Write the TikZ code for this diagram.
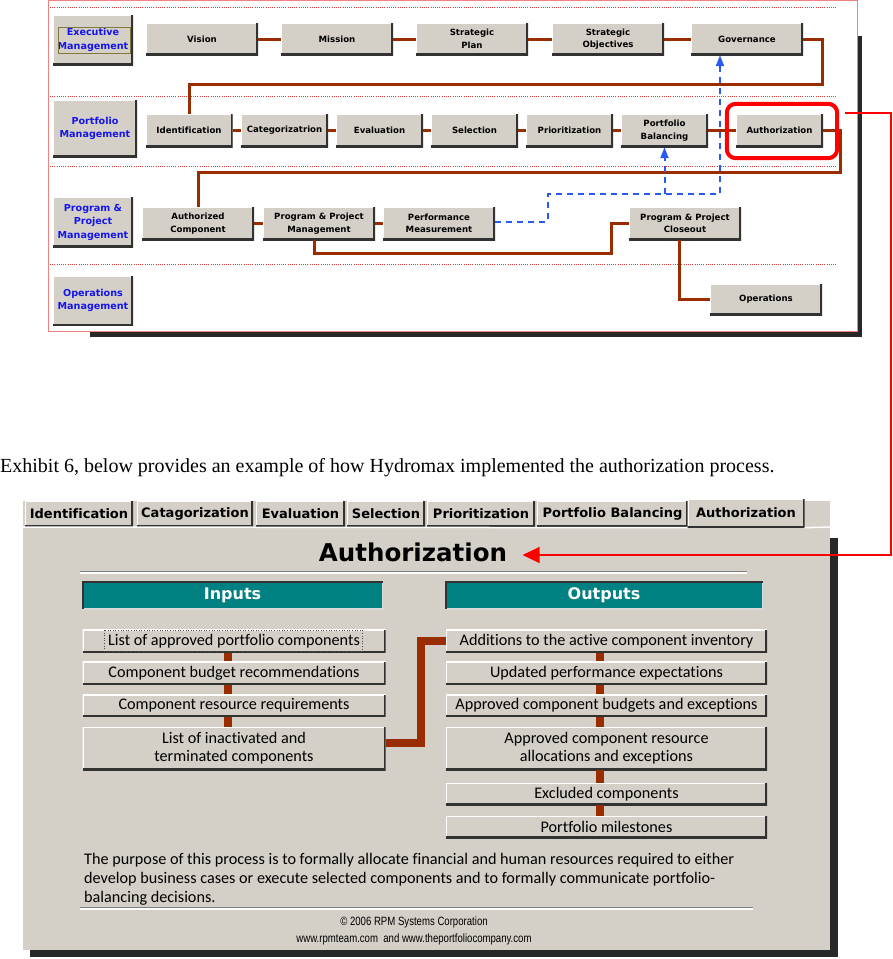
\documentclass[tikz,border=0pt]{standalone}
\usepackage{fontspec}
\setmainfont{Liberation Serif}
\newfontfamily\tahoma{DejaVu Sans}[Ligatures=NoCommon]
\newfontfamily\calibri{Carlito}[Ligatures=NoCommon]
\newfontfamily\narrowsans{Liberation Sans}[FakeStretch=0.8]
\usetikzlibrary{positioning,arrows.meta,calc}
\definecolor{panegrey}{RGB}{212,208,200}
\definecolor{edgedark}{RGB}{50,50,50}
\definecolor{shadowdark}{RGB}{40,40,40}
\definecolor{linkbrown}{RGB}{153,45,0}
\definecolor{tealhead}{RGB}{0,128,128}
\definecolor{flowblue}{RGB}{40,90,240}
\definecolor{lanepink}{RGB}{240,130,130}
\definecolor{lanedot}{RGB}{225,60,60}
\definecolor{laneblue}{RGB}{20,20,235}
\definecolor{focusolive}{RGB}{128,120,60}
\newcommand{\boxfont}{\tahoma\bfseries\fontsize{8.6}{12.5}\selectfont}
\newcommand{\lanefont}{\tahoma\bfseries\fontsize{9.6}{13.5}\selectfont}
\newcommand{\tabfont}{\tahoma\bfseries\fontsize{13}{14}\selectfont}
\newcommand{\titlefont}{\tahoma\bfseries\fontsize{24.5}{26}\selectfont}
\newcommand{\headfont}{\tahoma\bfseries\fontsize{16}{18}\selectfont}
\newcommand{\iofont}{\calibri\fontsize{16.2}{18}\selectfont}
\newcommand{\parafont}{\calibri\fontsize{16.2}{19}\selectfont}
\newcommand{\footfont}{\narrowsans\fontsize{12}{13}\selectfont}

\begin{document}
\begin{tikzpicture}[x=1pt,y=-1pt,
  raised/.style={fill=panegrey, inner sep=0pt, align=center,
    path picture={
      \draw[white, line width=2.5pt] (path picture bounding box.south west)
        -- (path picture bounding box.north west) -- (path picture bounding box.north east);
      \draw[edgedark, line width=3.5pt] (path picture bounding box.south west)
        -- (path picture bounding box.south east) -- (path picture bounding box.north east);}},
  procbox/.style={raised, font=\boxfont, minimum width=112pt, minimum height=32pt},
  smallbox/.style={procbox, minimum width=87pt, minimum height=33pt},
  lanebox/.style={raised, font=\lanefont, text=laneblue, minimum width=80pt, minimum height=50pt},
  tab/.style={raised, font=\tabfont, minimum height=26pt},
  header/.style={fill=tealhead, text=white, font=\headfont, minimum height=28pt,
    path picture={
      \draw[white!85!black, line width=3pt] (path picture bounding box.south west)
        -- (path picture bounding box.south east) -- (path picture bounding box.north east);
      \draw[edgedark, line width=4pt] (path picture bounding box.south west)
        -- (path picture bounding box.north west) -- (path picture bounding box.north east);}},
  iobox/.style={raised, font=\iofont, minimum height=23pt},
  inbox/.style={iobox, minimum width=303pt},
  outbox/.style={iobox, minimum width=321pt},
  link/.style={draw=linkbrown, line width=3pt},
  bar/.style={draw=linkbrown, line width=8pt},
  flow/.style={draw=flowblue, line width=2pt, dash pattern=on 6pt off 5pt},
  lane/.style={draw=lanedot, line width=0.8pt, dash pattern=on 1pt off 1.2pt},
  pointer/.style={draw=red, line width=1.2pt, -{Triangle[length=17pt,width=16pt]}},
  rule/.style={draw=white, line width=1.5pt}
]
\useasboundingbox (0,0) rectangle (893,959);

% ---------- top panel: swim lanes ----------
\fill[shadowdark] (90,36) rectangle (862,337);
\fill[white] (48,0) rectangle (857,331);
\draw[lanepink, line width=1pt] (48.5,0.5) rectangle (857,331);
\foreach \y in {7,96,166,264}
  \draw[lane] (50,\y) -- (836,\y);

% lane labels
\node[lanebox] (exec) at (93,40) {Executive\\Management};
\draw[focusolive, line width=0.8pt] ([shift={(-35,-13)}]exec.center) rectangle ([shift={(37,13)}]exec.center);
\node[lanebox, minimum width=84pt, minimum height=57pt] (portf) at (95,128.5) {Portfolio\\Management};
\node[lanebox] (progm) at (93,222) {Program \&\\Project\\Management};
\node[lanebox] (opsm) at (93,300.5) {Operations\\Management};

% executive row
\node[procbox] (vision) at (202,39) {Vision};
\node[procbox] (mission) at (337,39) {Mission};
\node[procbox] (plan) at (472,39) {Strategic\\Plan};
\node[procbox] (object) at (608,39) {Strategic\\Objectives};
\node[procbox] (gov) at (747,39) {Governance};

% portfolio row
\node[smallbox] (ident) at (189,130.5) {Identification};
\node[smallbox] (categ) at (284.5,130.5) {Categorizatrion};
\node[smallbox] (evalu) at (379.5,130.5) {Evaluation};
\node[smallbox] (select) at (474.5,130.5) {Selection};
\node[smallbox] (prio) at (569.5,130.5) {Prioritization};
\node[smallbox] (balance) at (664.5,130.5) {Portfolio\\Balancing};
\node[smallbox] (auth) at (779.5,130.5) {Authorization};

% program row
\node[procbox, minimum height=33pt] (authcomp) at (198,223.5) {Authorized\\Component};
\node[procbox, minimum height=33pt] (ppm) at (319,223.5) {Program \& Project\\Management};
\node[procbox, minimum height=33pt] (perf) at (439,223.5) {Performance\\Measurement};
\node[procbox, minimum height=33pt] (close) at (685,223.5) {Program \& Project\\Closeout};
\node[procbox, minimum height=31pt] (ops) at (766,299.5) {Operations};

% connectors
\foreach \a/\b in {vision/mission,mission/plan,plan/object,object/gov,
    ident/categ,categ/evalu,evalu/select,select/prio,prio/balance,balance/auth,
    authcomp/ppm,ppm/perf}
  \draw[link] (\a.east) -- (\b.east -| \b.west);
\coordinate (loopA) at (822,84);
\coordinate (loopB) at (840,172);
\coordinate (dropC) at (611,253);
\draw[link] (gov.east) -| (loopA) -| (ident.north);
\draw[link] (auth.east) -| (loopB) -| (authcomp.north);
\draw[link] ([xshift=-5pt]ppm.south) |- (dropC) |- (close.west);
\draw[link] ([xshift=-6pt]close.south) |- (ops.west);

% feedback
\coordinate (fbA) at (548,194);
\coordinate (fbB) at (720,194);
\draw[flow, -{Triangle[width=8pt,length=11pt]}] ([yshift=2pt]perf.east) -| (fbA) -- (fbB) -- ([xshift=-27pt]gov.south);
\draw[flow, -{Triangle[width=8pt,length=11pt]}] (fbA -| balance.south) -- (balance.south);

% callout
\draw[red, line width=4pt, rounded corners=9pt]
  ([xshift=-9pt,yshift=10pt]auth.north west) rectangle ([xshift=14pt,yshift=-11pt]auth.south east);

% ---------- caption ----------
\node[anchor=west, font=\fontsize{20}{22}\selectfont, inner sep=0pt] (exhibit) at (0,468)
  {Exhibit 6, below provides an example of how Hydromax implemented the authorization process.};

% ---------- bottom panel ----------
\fill[shadowdark] (30,538) rectangle (838,957);
\fill[panegrey] (23,527) rectangle (830,950);
\fill[panegrey] (23,501) rectangle (830,527);
\node[tab, minimum width=108pt] (tabIdent) at (79,514) {Identification};
\node[tab, minimum width=116pt] (tabCateg) at (195,514) {Catagorization};
\node[tab, minimum width=89pt] (tabEval) at (300.5,514) {Evaluation};
\node[tab, minimum width=78pt] (tabSel) at (386,514) {Selection};
\node[tab, minimum width=108pt] (tabPrio) at (481,514) {Prioritization};
\node[tab, minimum width=151pt] (tabBal) at (612.5,514) {Portfolio Balancing};
\node[tab, minimum width=117pt, minimum height=29pt] (tabAuth) at (746,513) {Authorization};
\draw[rule] (23,527) -- (tabAuth.south west);
\draw[rule] (tabAuth.south east) -- (830,527);

\node[font=\titlefont] (title) at (413,552) {Authorization};
\draw[gray, line width=0.8pt] (80,571.5) -- (747,571.5);
\draw[rule] (80,573) -- (747,573);

\node[header, minimum width=301pt] (inputs) at (232.5,595) {Inputs};
\node[header, minimum width=318pt] (outputs) at (604,595) {Outputs};

\node[inbox] (in1) at (234,641) {List of approved portfolio components};
\draw[black!70, line width=0.6pt, dotted] ([shift={(-130,-11)}]in1.center) rectangle ([shift={(128,10)}]in1.center);
\node[inbox] (in2) at (234,673) {Component budget recommendations};
\node[inbox, minimum height=22pt] (in3) at (234,705.5) {Component resource requirements};
\node[inbox, minimum height=43pt] (in4) at (234,748.5) {List of inactivated and\\terminated components};

\node[outbox] (out1) at (606.5,641) {Additions to the active component inventory};
\node[outbox] (out2) at (606.5,673) {Updated performance expectations};
\node[outbox, minimum height=22pt] (out3) at (606.5,705.5) {Approved component budgets and exceptions};
\node[outbox, minimum height=43pt] (out4) at (606.5,748.5) {Approved component resource\\allocations and exceptions};
\node[outbox, minimum height=22pt] (out5) at (606.5,794) {Excluded components};
\node[outbox, minimum height=22pt] (out6) at (606.5,827) {Portfolio milestones};

\foreach \a/\b in {in1/in2,in2/in3,in3/in4,out1/out2,out2/out3,out3/out4,out4/out5,out5/out6}
  \draw[bar] ([xshift=-6.5pt]\a.south) -- ([xshift=-6.5pt]\b.north);
\coordinate (jog) at (421,641);
\draw[bar] ([yshift=6pt]in4.east) -| (jog) -- (out1.west);

\node[anchor=north west, align=left, font=\parafont, inner sep=0pt] (purpose) at (84,853)
  {The purpose of this process is to formally allocate financial and human resources required to either\\
   develop business cases or execute selected components and to formally communicate portfolio-\\
   balancing decisions.};
\draw[gray, line width=0.8pt] (80,907.5) -- (753,907.5);
\draw[rule] (80,909) -- (753,909);
\node[font=\footfont] (copy) at (414,922) {\textcopyright{} 2006 RPM Systems Corporation};
\node[font=\footfont] (web) at (414,939) {www.rpmteam.com\ \ and www.theportfoliocompany.com};

% pointer from callout to title
\coordinate (tap) at (845,113);
\coordinate (turn) at (891,555);
\coordinate (tip) at ([xshift=12pt]title.east);
\draw[pointer] (tap) -| (turn) -- (tip |- turn);
\end{tikzpicture}
\end{document}
